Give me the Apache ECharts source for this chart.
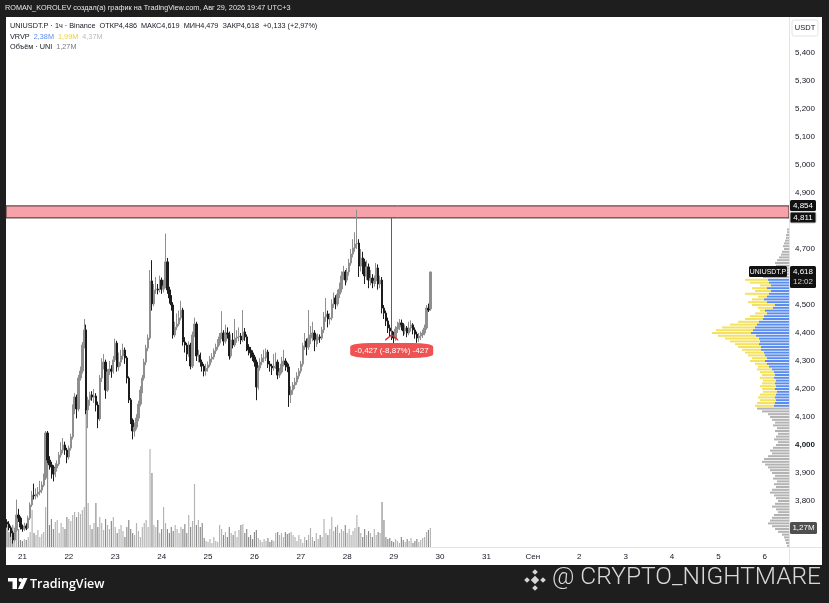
<!DOCTYPE html>
<html><head><meta charset="utf-8">
<script src="https://cdn.jsdelivr.net/npm/echarts@6/dist/echarts.min.js"></script>
<style>html,body{margin:0;padding:0;background:#1e1e1e;}#c{width:829px;height:603px;}</style>
</head><body><div id="c"></div>
<script>
// ---- x axis: hourly candles, first category Aug 20 16:00 ----
const dayLabels = ['21','22','23','24','25','26','27','28','29','30','31','Сен','2','3','4','5','6'];
const firstHour = 16;
const categoryCount = 405;

// ---- candles (UNIUSDT.P, 1h) ----
const opens = [
3.725,3.718,3.704,3.686,3.661,3.696,3.750,3.739,3.707,3.700,
3.711,3.704,3.739,3.786,3.821,3.818,3.825,3.832,3.839,3.857,
3.882,4.043,3.946,3.929,3.921,3.896,3.918,3.932,3.964,3.982,
4.000,3.982,3.957,3.989,4.029,4.132,4.171,4.129,4.239,4.264,
4.357,4.411,4.125,4.161,4.179,4.171,4.175,4.143,4.093,4.239,
4.289,4.296,4.196,4.261,4.271,4.264,4.304,4.364,4.279,4.296,
4.318,4.339,4.311,4.239,4.161,4.089,4.050,4.064,4.096,4.146,
4.196,4.239,4.296,4.346,4.382,4.586,4.504,4.554,4.557,4.554,
4.589,4.557,4.568,4.654,4.554,4.525,4.500,4.393,4.421,4.432,
4.454,4.482,4.368,4.357,4.325,4.357,4.282,4.393,4.432,4.318,
4.321,4.296,4.282,4.264,4.275,4.286,4.307,4.314,4.336,4.350,
4.364,4.386,4.400,4.371,4.400,4.396,4.318,4.375,4.357,4.382,
4.386,4.389,4.375,4.404,4.386,4.350,4.339,4.329,4.314,4.296,
4.207,4.275,4.296,4.311,4.311,4.332,4.289,4.282,4.275,4.282,
4.296,4.250,4.261,4.289,4.300,4.286,4.279,4.179,4.196,4.214,
4.225,4.246,4.264,4.289,4.354,4.371,4.350,4.382,4.393,4.400,
4.375,4.375,4.386,4.382,4.411,4.457,4.468,4.450,4.454,4.504,
4.525,4.504,4.539,4.557,4.604,4.618,4.589,4.618,4.650,4.682,
4.704,4.718,4.721,4.639,4.668,4.654,4.604,4.636,4.589,4.596,
4.579,4.586,4.632,4.575,4.589,4.489,4.471,4.443,4.418,4.407,
4.393,4.382,4.414,4.421,4.436,4.429,4.407,4.418,4.400,4.418,
4.429,4.411,4.396,4.382,4.389,4.393,4.400,4.418,4.489,4.486];
const closes = [
3.718,3.704,3.686,3.661,3.696,3.750,3.739,3.707,3.700,3.711,
3.704,3.739,3.786,3.821,3.818,3.825,3.832,3.839,3.857,3.882,
4.043,3.946,3.929,3.921,3.896,3.918,3.932,3.964,3.982,4.000,
3.982,3.957,3.989,4.029,4.132,4.171,4.129,4.239,4.264,4.357,
4.411,4.125,4.161,4.179,4.171,4.175,4.143,4.093,4.239,4.289,
4.296,4.196,4.261,4.271,4.264,4.304,4.364,4.279,4.296,4.318,
4.339,4.311,4.239,4.161,4.089,4.050,4.064,4.096,4.146,4.196,
4.239,4.296,4.346,4.382,4.586,4.504,4.554,4.557,4.554,4.589,
4.557,4.568,4.654,4.554,4.525,4.500,4.393,4.421,4.432,4.454,
4.482,4.368,4.357,4.325,4.357,4.282,4.393,4.432,4.318,4.321,
4.296,4.282,4.264,4.275,4.286,4.307,4.314,4.336,4.350,4.364,
4.386,4.400,4.371,4.400,4.396,4.318,4.375,4.357,4.382,4.386,
4.389,4.375,4.404,4.386,4.350,4.339,4.329,4.314,4.296,4.207,
4.275,4.296,4.311,4.311,4.332,4.289,4.282,4.275,4.282,4.296,
4.250,4.261,4.289,4.300,4.286,4.279,4.179,4.196,4.214,4.225,
4.246,4.264,4.289,4.354,4.371,4.350,4.382,4.393,4.400,4.375,
4.375,4.386,4.382,4.411,4.457,4.468,4.450,4.454,4.504,4.525,
4.504,4.539,4.557,4.604,4.618,4.589,4.618,4.650,4.682,4.704,
4.718,4.721,4.639,4.668,4.654,4.604,4.636,4.589,4.596,4.579,
4.586,4.632,4.575,4.589,4.489,4.471,4.443,4.418,4.407,4.393,
4.382,4.414,4.421,4.436,4.429,4.407,4.418,4.400,4.418,4.429,
4.411,4.396,4.382,4.389,4.393,4.400,4.418,4.489,4.482,4.618];
const highs = [
3.735,3.728,3.712,3.694,3.705,3.805,3.772,3.745,3.716,3.722,
3.720,3.748,3.795,3.836,3.862,3.845,3.850,3.872,3.870,3.898,
4.050,4.050,3.960,3.940,3.928,3.935,3.945,3.975,4.010,4.025,
4.012,3.990,3.998,4.040,4.145,4.185,4.180,4.250,4.280,4.368,
4.450,4.430,4.172,4.190,4.192,4.200,4.185,4.155,4.250,4.310,
4.325,4.305,4.272,4.300,4.285,4.318,4.380,4.372,4.330,4.340,
4.362,4.348,4.318,4.245,4.168,4.095,4.080,4.110,4.158,4.210,
4.250,4.308,4.358,4.395,4.625,4.660,4.575,4.600,4.575,4.605,
4.598,4.590,4.755,4.668,4.565,4.535,4.510,4.440,4.470,4.480,
4.515,4.490,4.385,4.365,4.370,4.365,4.405,4.455,4.440,4.340,
4.330,4.305,4.290,4.290,4.298,4.318,4.328,4.345,4.362,4.378,
4.400,4.478,4.410,4.430,4.420,4.405,4.395,4.400,4.450,4.410,
4.420,4.400,4.482,4.418,4.395,4.360,4.350,4.338,4.322,4.305,
4.285,4.310,4.325,4.340,4.345,4.340,4.300,4.290,4.325,4.330,
4.305,4.275,4.315,4.340,4.310,4.295,4.290,4.210,4.225,4.240,
4.260,4.275,4.300,4.365,4.400,4.380,4.482,4.425,4.440,4.410,
4.395,4.398,4.395,4.422,4.475,4.525,4.480,4.470,4.520,4.545,
4.535,4.555,4.580,4.620,4.640,4.625,4.632,4.665,4.700,4.735,
4.760,4.840,4.735,4.700,4.690,4.665,4.660,4.648,4.625,4.610,
4.605,4.650,4.645,4.605,4.600,4.500,4.480,4.455,4.430,4.415,
4.405,4.425,4.440,4.450,4.448,4.435,4.430,4.425,4.440,4.445,
4.435,4.420,4.405,4.400,4.405,4.412,4.430,4.500,4.505,4.619];
const lows = [
3.705,3.695,3.672,3.648,3.655,3.690,3.725,3.698,3.690,3.693,
3.696,3.700,3.732,3.779,3.805,3.806,3.812,3.820,3.828,3.850,
3.875,3.935,3.912,3.880,3.870,3.885,3.905,3.925,3.955,3.970,
3.965,3.935,3.948,3.980,4.020,4.110,4.095,4.120,4.230,4.255,
4.345,4.110,4.060,4.140,4.158,4.150,4.120,4.060,4.085,4.225,
4.270,4.165,4.190,4.250,4.240,4.255,4.296,4.262,4.265,4.282,
4.305,4.290,4.220,4.150,4.075,4.020,4.030,4.055,4.085,4.138,
4.185,4.230,4.285,4.335,4.375,4.480,4.495,4.540,4.538,4.545,
4.540,4.545,4.560,4.540,4.505,4.480,4.380,4.385,4.410,4.425,
4.445,4.355,4.330,4.300,4.315,4.270,4.275,4.385,4.300,4.295,
4.280,4.262,4.245,4.248,4.262,4.278,4.295,4.305,4.325,4.340,
4.355,4.378,4.355,4.362,4.380,4.305,4.310,4.345,4.350,4.365,
4.370,4.360,4.368,4.372,4.335,4.320,4.310,4.300,4.280,4.160,
4.198,4.265,4.285,4.295,4.300,4.275,4.262,4.250,4.265,4.272,
4.235,4.240,4.255,4.280,4.265,4.260,4.136,4.150,4.180,4.200,
4.215,4.235,4.255,4.280,4.340,4.320,4.340,4.360,4.370,4.335,
4.350,4.360,4.365,4.375,4.400,4.440,4.420,4.430,4.445,4.490,
4.485,4.495,4.525,4.545,4.590,4.570,4.580,4.605,4.640,4.670,
4.690,4.700,4.600,4.620,4.610,4.575,4.590,4.560,4.570,4.560,
4.565,4.575,4.555,4.560,4.470,4.450,4.425,4.400,4.388,4.375,
4.360,4.372,4.400,4.410,4.410,4.390,4.395,4.385,4.392,4.405,
4.395,4.380,4.365,4.368,4.375,4.382,4.392,4.412,4.475,4.479];
// volume, millions UNI
const volumes = [
1.60,1.00,1.34,1.47,0.80,2.27,1.20,0.47,0.40,0.53,
0.47,0.67,1.00,2.47,0.94,0.80,1.14,0.67,0.87,1.00,
2.67,6.68,1.47,1.87,1.20,1.67,1.80,0.94,1.60,1.34,
1.20,2.00,1.87,1.74,2.14,2.34,2.00,2.34,2.20,2.47,
2.67,11.16,2.94,1.47,1.20,1.60,2.94,1.34,2.00,1.60,
1.14,1.87,1.47,1.20,1.74,2.00,1.34,0.94,1.20,1.47,
1.07,0.67,1.34,1.80,1.20,0.94,0.80,1.60,1.07,0.67,
1.34,1.60,1.80,1.34,6.55,4.94,1.47,1.34,1.80,0.94,
1.20,2.67,1.60,1.20,0.94,1.34,1.07,1.47,1.20,0.94,
1.34,1.20,1.54,0.94,2.14,1.34,1.74,4.21,1.47,1.80,
1.34,1.60,0.60,0.40,0.33,0.53,0.27,0.67,0.40,0.33,
1.47,1.20,0.80,1.00,0.67,1.34,0.94,0.80,1.07,0.67,
1.14,1.47,1.54,0.94,1.20,0.67,0.80,0.53,1.00,1.14,
0.60,0.47,0.33,0.53,0.40,0.60,0.33,0.47,0.40,0.94,
1.00,0.80,0.94,0.67,1.00,0.87,0.94,1.00,0.80,0.67,
0.40,0.80,0.53,0.27,0.67,0.47,0.80,1.27,0.67,0.40,
0.94,0.53,0.80,0.67,1.87,0.94,0.80,1.20,2.00,1.07,
1.34,1.47,0.94,1.20,1.07,1.47,0.94,1.20,0.80,1.07,
1.27,2.14,1.34,0.94,0.67,1.20,0.80,1.07,0.94,0.67,
1.20,0.80,1.00,0.94,3.01,1.80,0.67,0.53,0.60,0.40,
0.33,0.53,0.40,0.27,0.67,0.47,0.33,0.53,0.40,0.60,
0.27,0.40,0.53,0.33,0.47,0.60,0.67,1.00,1.14,1.27];

// ---- visible range volume profile (bins of 0.01 from 4.77 down to 3.64) ----
const profileTop = 4.77;
const profileStep = 0.01;
const profileTotal = [
2,2,3,3,4,5,6,5,7,8,10,12,14,13,16,20,22,26,
44,39,29,37,34,44,31,37,41,37,31,29,34,39,44,51,59,67,73,77,71,64,59,54,51,47,44,41,37,39,34,31,32,29,27,29,26,27,29,27,26,29,31,29,32,34,
32,27,21,19,17,14,16,12,14,11,13,15,11,13,16,19,17,21,25,27,24,21,19,17,14,16,12,15,13,17,19,15,13,11,14,17,13,11,15,17,19,21,17,14,11,7,5,4,3,2];
const valueAreaHigh = 4.59, valueAreaLow = 4.14;
const profileUpVA = [
21,20,18,22,18,20,22,25,22,14,16,24,22,25,26,30,32,34,36,38,33,30,29,30,28,28,25,24,22,24,22,20,17,15,14,15,13,14,13,14,12,13,14,13,14,15];

// ---- annotations ----
const zoneHigh = 4.854, zoneLow = 4.811;
const measureFrom = 4.811, measureTo = 4.384, measureBar = 199;
const measureText = '-0,427 (-8,87%) -427';
const lastPrice = 4.618, lastVolume = 1.27;
const headerText = 'ROMAN_KOROLEV создал(а) график на TradingView.com, Авг 29, 2026 19:47 UTC+3';
const legend1 = 'UNIUSDT.P · 1ч · Binance  ОТКР4,486  МАКС4,619  МИН4,479  ЗАКР4,618  +0,133 (+2,97%)';
const vrvpValues = ['2,38M','1,99M','4,37M'];

const cats = [];
for (let i = 0; i < categoryCount; i++) cats.push('c' + i);
function labelFor(i){ const h = (firstHour + i) % 24; if (h !== 0) return ''; const d = Math.floor((firstHour + i) / 24) - 1; return dayLabels[d] || ''; }

const candleData = opens.map((o, i) => [o, closes[i], lows[i], highs[i]]);
const volData = volumes.map((v, i) => ({ value: v, itemStyle: { color: closes[i] >= opens[i] ? '#b3b3b3' : '#8a8a8a' } }));
const profileData = profileTotal.map((t, k) => {
  const p = +(profileTop - k * profileStep).toFixed(2);
  const inVA = p <= valueAreaHigh + 1e-9 && p >= valueAreaLow - 1e-9;
  const up = inVA ? profileUpVA[Math.round((valueAreaHigh - p) / profileStep)] : 0;
  return [p, t, up, inVA ? 1 : 0];
});

const FONT = 'Liberation Sans, Arial, sans-serif';
const chart = echarts.init(document.getElementById('c'));
chart.setOption({
  animation: false,
  backgroundColor: '#1e1e1e',
  grid: [
    { left: 6, right: 40, top: 25, bottom: 46 },
    { left: 6, right: 40, top: 347, bottom: 56 }
  ],
  xAxis: [
    { type: 'category', gridIndex: 0, data: cats, boundaryGap: true, show: false },
    { type: 'category', gridIndex: 1, data: cats, boundaryGap: true,
      axisLine: { show: false }, axisTick: { show: false },
      axisLabel: { interval: (idx) => (firstHour + idx) % 24 === 0, formatter: (v, idx) => labelFor(idx),
        color: '#131722', fontSize: 8, fontFamily: FONT, margin: 6 } },
    { type: 'value', gridIndex: 0, inverse: true, min: 0, max: 783, show: false }
  ],
  yAxis: [
    { type: 'value', gridIndex: 0, position: 'right', min: 3.6, max: 5.5, interval: 0.1, scale: true,
      axisLine: { show: false }, axisTick: { show: false }, splitLine: { show: false },
      axisLabel: { color: '#131722', fontSize: 8, fontFamily: FONT, margin: 6,
        formatter: (v) => { const s = v.toFixed(1); if (['3.6','3.7','4.6','4.8','5.5'].includes(s)) return ''; const t = v.toFixed(3).replace('.', ','); return s === '4.0' ? '{b|' + t + '}' : t; },
        rich: { b: { fontWeight: 'bold', fontSize: 8, fontFamily: FONT, color: '#131722' } } } },
    { type: 'value', gridIndex: 1, min: 0, max: 13.36, show: false }
  ],
  series: [
    { type: 'bar', xAxisIndex: 1, yAxisIndex: 1, data: volData, barWidth: '60%', z: 1, silent: true },
    { type: 'custom', xAxisIndex: 2, yAxisIndex: 0, data: profileData, z: 2, silent: true,
      renderItem: (params, api) => {
        const price = api.value(0), tot = api.value(1), up = api.value(2), inVA = api.value(3);
        const h = Math.max(1, Math.abs(api.size([0, profileStep])[1]) * 0.72);
        const p0 = api.coord([0, price]);
        const pT = api.coord([tot, price]);
        const ch = [];
        if (!inVA) {
          ch.push({ type: 'rect', shape: { x: pT[0], y: p0[1] - h / 2, width: p0[0] - pT[0], height: h }, style: { fill: '#b3b3b3' } });
        } else {
          const pU = api.coord([up, price]);
          ch.push({ type: 'rect', shape: { x: pT[0], y: p0[1] - h / 2, width: pU[0] - pT[0], height: h }, style: { fill: '#f3e15f' } });
          ch.push({ type: 'rect', shape: { x: pU[0], y: p0[1] - h / 2, width: p0[0] - pU[0], height: h }, style: { fill: '#5b8def' } });
        }
        return { type: 'group', children: ch };
      } },
    { type: 'candlestick', xAxisIndex: 0, yAxisIndex: 0, data: candleData, barWidth: '92%', z: 3,
      itemStyle: { color: '#8f8f8f', color0: '#1c1c1c', borderColor: '#8f8f8f', borderColor0: '#1c1c1c', borderWidth: 1 },
      markArea: { silent: true, itemStyle: { color: 'rgba(240,70,85,0.5)', borderColor: '#3a2a2a', borderWidth: 1 },
        data: [[{ yAxis: zoneHigh }, { yAxis: zoneLow }]] },
      markLine: { silent: true, animation: false, symbol: ['none', 'path://M0,0 L10,7 L20,0 L20,2.5 L10,9.5 L0,2.5 Z'], symbolSize: [13, 7],
        label: { show: false },
        data: [
          [{ yAxis: lastPrice, symbol: 'none', lineStyle: { type: 'dotted', color: '#8a8e99', width: 1 } }, { yAxis: lastPrice, symbol: 'none' }],
          [{ coord: [measureBar, measureFrom], symbol: 'none', lineStyle: { color: '#d32f2f', width: 1, type: 'solid' } }, { coord: [measureBar, measureTo] }]
        ] },
      markPoint: { silent: true, animation: false,
        data: [{ coord: [measureBar, 4.3375], symbol: 'roundRect', symbolSize: [83, 15], itemStyle: { color: '#f05252' },
          label: { show: true, position: 'inside', formatter: measureText, color: '#fff', fontSize: 8, fontFamily: FONT } }] } }
  ]
});

const yP = p => chart.convertToPixel({ yAxisIndex: 0 }, p);
const yV = v => chart.convertToPixel({ yAxisIndex: 1 }, v);
function box(x, yc, w, h, fill, stroke, lines, textFill, sx) {
  const els = [{ type: 'rect', z: 100, shape: { x: x, y: Math.round(yc - h / 2), width: w, height: h, r: 1.5 }, style: { fill: fill, stroke: stroke || null, lineWidth: 1 } }];
  lines.forEach((t, i) => els.push({ type: 'text', z: 101, x: x + w / 2, y: Math.round(yc - h / 2) + 5.5 + i * 10.5, scaleX: sx || 1,
    style: { text: t, fill: textFill || '#fff', font: '8px ' + FONT, align: 'center', verticalAlign: 'middle', textAlign: 'center', textVerticalAlign: 'middle' } }));
  return els;
}
function txt(x, y, text, fill, font, sx) {
  return { type: 'text', z: 101, x: x, y: y, scaleX: sx || 1, style: { text: text, fill: fill, font: font, align: 'left', verticalAlign: 'middle', textAlign: 'left', textVerticalAlign: 'middle' } };
}
const yLast = yP(lastPrice);
const g = [];
g.push({ type: 'rect', z: -10, shape: { x: 6, y: 17, width: 816, height: 548 }, style: { fill: '#ffffff' } });
g.push({ type: 'line', z: 50, shape: { x1: 789.5, y1: 17, x2: 789.5, y2: 565 }, style: { stroke: '#e0e3eb', lineWidth: 1 } });
g.push({ type: 'line', z: 50, shape: { x1: 6, y1: 547.5, x2: 822, y2: 547.5 }, style: { stroke: '#e0e3eb', lineWidth: 1 } });
g.push(txt(5, 8, headerText, '#e8e8e8', '8px ' + FONT, 0.91));
g.push(txt(10, 26, legend1, '#131722', '8px ' + FONT, 0.91));
g.push({ type: 'text', z: 101, x: 10, y: 37, scaleX: 0.91, style: { text: '{a|VRVP}  {b|' + vrvpValues[0] + '}  {c|' + vrvpValues[1] + '}  {d|' + vrvpValues[2] + '}', font: '8px ' + FONT, verticalAlign: 'middle', textVerticalAlign: 'middle',
  rich: { a: { fill: '#131722', color: '#131722', font: '8px ' + FONT }, b: { fill: '#5b8def', color: '#5b8def', font: '8px ' + FONT }, c: { fill: '#e8d23c', color: '#e8d23c', font: '8px ' + FONT }, d: { fill: '#b8bbc4', color: '#b8bbc4', font: '8px ' + FONT } } } });
g.push({ type: 'text', z: 101, x: 10, y: 47, scaleX: 0.91, style: { text: '{a|Объём · UNI}  {d|' + lastVolume.toFixed(2).replace('.', ',') + 'M}', font: '8px ' + FONT, verticalAlign: 'middle', textVerticalAlign: 'middle',
  rich: { a: { fill: '#131722', color: '#131722', font: '8px ' + FONT }, d: { fill: '#787b86', color: '#787b86', font: '8px ' + FONT } } } });
g.push({ type: 'rect', z: 100, shape: { x: 792, y: 20, width: 26, height: 16, r: 2 }, style: { fill: '#fff', stroke: '#e0e3eb' } });
g.push({ type: 'text', z: 101, x: 805, y: 28, style: { text: 'USDT', fill: '#131722', font: '7.5px ' + FONT, align: 'center', verticalAlign: 'middle', textAlign: 'center', textVerticalAlign: 'middle' } });
g.push(...box(790, yP(zoneHigh), 26, 11, '#111', null, [zoneHigh.toFixed(3).replace('.', ',')]));
g.push(...box(790, yP(zoneLow), 26, 11, '#111', '#cfcfcf', [zoneLow.toFixed(3).replace('.', ',')]));
g.push(...box(749, yLast, 38, 11, '#111', null, ['UNIUSDT.P'], '#fff', 0.86));
g.push({ type: 'rect', z: 100, shape: { x: 790, y: Math.round(yLast - 5.5), width: 26, height: 22, r: 1.5 }, style: { fill: '#111' } });
g.push({ type: 'text', z: 101, x: 803, y: Math.round(yLast - 5.5) + 5.5, style: { text: lastPrice.toFixed(3).replace('.', ','), fill: '#fff', font: '8px ' + FONT, align: 'center', verticalAlign: 'middle', textAlign: 'center', textVerticalAlign: 'middle' } });
g.push({ type: 'text', z: 101, x: 803, y: Math.round(yLast - 5.5) + 16, style: { text: '12:02', fill: '#d0d0d0', font: '8px ' + FONT, align: 'center', verticalAlign: 'middle', textAlign: 'center', textVerticalAlign: 'middle' } });
g.push(...box(790, yV(lastVolume), 27, 12, '#4f4f4f', null, [lastVolume.toFixed(2).replace('.', ',') + 'M']));
// footer: TradingView logo
g.push({ type: 'rect', z: 101, shape: { x: 8, y: 578, width: 9, height: 3.5 }, style: { fill: '#fff' } });
g.push({ type: 'rect', z: 101, shape: { x: 12.5, y: 578, width: 4.5, height: 11 }, style: { fill: '#fff' } });
g.push({ type: 'circle', z: 101, shape: { cx: 20.5, cy: 580, r: 2 }, style: { fill: '#fff' } });
g.push({ type: 'polygon', z: 101, shape: { points: [[23, 578], [27.5, 578], [22.5, 589], [18, 589]] }, style: { fill: '#fff' } });
g.push(txt(30, 584, 'TradingView', '#ffffff', '600 12.5px Open Sans, sans-serif'));
// watermark
[[535, 580, 6], [527, 580, 4], [543, 580, 4], [535, 572, 4], [535, 588, 4]].forEach(d => {
  g.push({ type: 'rect', z: 101, x: d[0], y: d[1], rotation: Math.PI / 4, shape: { x: -d[2] / 2, y: -d[2] / 2, width: d[2], height: d[2] }, style: { fill: '#d6d6d6' } });
});
g.push(txt(552, 578, '@ CRYPTO_NIGHTMARE', '#d9d9d9', '300 24.5px Roboto, sans-serif'));
chart.setOption({ graphic: g });
</script>
</body></html>
